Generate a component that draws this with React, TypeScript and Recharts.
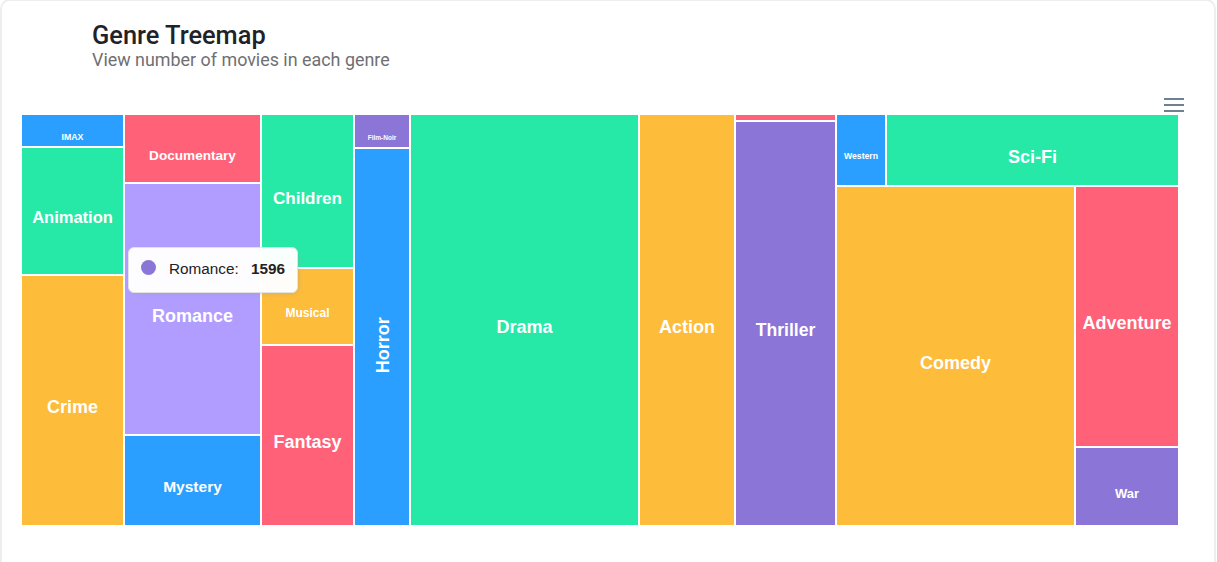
import React from 'react';
import { Treemap } from 'recharts';

const names = ['IMAX','Animation','Crime','Documentary','Romance','Mystery','Children','Musical','Fantasy','Film-Noir','Horror','Drama','Action','(no genres listed)','Thriller','Western','Sci-Fi','Comedy','Adventure','War'];
const counts = [158,611,1199,440,1596,573,664,334,779,87,978,4361,1828,34,1894,167,980,3756,1263,382];
const palette = ['#2a9fff','#27e9a7','#febc3b','#ff6178','#8b75d7'];
const labelSizes = [8.8,16.5,18,13.6,18,15.5,17,12,18,6.5,18,18,18,0,17.6,8.7,18,18,18,13];
const hovered = 'Romance';
const hoveredFill = '#b19dff';
const verticalLabels = ['Horror'];

const leaf = (name: string) => ({ name, value: counts[names.indexOf(name)] });
const group = (...children: any[]) => ({ name: '', children });
const tree = [
  group(leaf('IMAX'), leaf('Animation'), leaf('Crime')),
  group(leaf('Documentary'), leaf('Romance'), leaf('Mystery')),
  group(leaf('Children'), leaf('Musical'), leaf('Fantasy')),
  group(leaf('Film-Noir'), leaf('Horror')),
  leaf('Drama'),
  leaf('Action'),
  group(leaf('(no genres listed)'), leaf('Thriller')),
  group(
    group(leaf('Western'), leaf('Sci-Fi')),
    group(leaf('Comedy'), group(leaf('Adventure'), leaf('War'))),
  ),
];

function Cell(props: any) {
  const { x, y, width, height, name, children } = props;
  if (children && children.length) return <g />;
  const i = names.indexOf(name);
  if (i < 0) return <g />;
  const fill = name === hovered ? hoveredFill : palette[i % palette.length];
  const size = labelSizes[i];
  const cx = x + width / 2;
  const cy = y + height / 2 + 6.2 + size * 0.11;
  const vertical = verticalLabels.includes(name);
  return (
    <g>
      <rect x={x} y={y} width={width} height={height} fill={fill} stroke="#fff" strokeWidth={2} />
      {size > 0 && (
        <text
          x={cx}
          y={vertical ? cy + 2 : cy}
          textAnchor="middle"
          dominantBaseline="middle"
          fill="#fff"
          fontFamily="'Liberation Sans', Arial, sans-serif"
          fontWeight={700}
          fontSize={size}
          transform={vertical ? `rotate(-90 ${cx} ${cy})` : undefined}
        >
          {name}
        </text>
      )}
    </g>
  );
}

export default function App() {
  const hoverIndex = names.indexOf(hovered);
  return (
    <div style={{ position: 'absolute', left: 0, top: 0, width: 1217, height: 562, overflow: 'hidden', background: '#fff' }}>
      <div style={{ position: 'absolute', left: 0, top: -1, width: 1216, height: 600, border: '2px solid #eeeeee', borderRadius: 10, boxSizing: 'border-box' }} />
      <div style={{ position: 'absolute', left: 92, top: 20, fontFamily: 'Roboto, sans-serif', fontWeight: 500, fontSize: 25.4, lineHeight: '30px', color: '#1f2329' }}>Genre Treemap</div>
      <div style={{ position: 'absolute', left: 92, top: 49, fontFamily: 'Roboto, sans-serif', fontWeight: 400, fontSize: 17.9, lineHeight: '22px', color: '#6f6f73' }}>View number of movies in each genre</div>
      <div style={{ position: 'absolute', left: 1164, top: 98, width: 20 }}>
        {[0, 1, 2].map((k) => (
          <div key={k} style={{ position: 'absolute', left: 0, top: k * 6, width: 20, height: 2, background: '#6e8192' }} />
        ))}
      </div>
      <div style={{ position: 'absolute', left: 21, top: 114 }}>
        <Treemap
          width={1158}
          height={412}
          data={tree}
          dataKey="value"
          nameKey="name"
          type="flat"
          aspectRatio={0.001}
          isAnimationActive={false}
          content={<Cell />}
        />
      </div>
      <div style={{ position: 'absolute', left: 128, top: 247, width: 170, height: 46, boxSizing: 'border-box', background: 'rgba(255,255,255,0.97)', border: '1px solid #e3e3e3', borderRadius: 6, boxShadow: '2px 2px 6px -4px #999', fontFamily: "'Liberation Sans', Arial, sans-serif", fontSize: 15.3, color: '#222' }}>
        <div style={{ position: 'absolute', left: 12, top: 12, width: 15, height: 15, borderRadius: '50%', background: palette[4] }} />
        <div style={{ position: 'absolute', left: 40, top: 11.5, lineHeight: '17px' }}>{names[hoverIndex]}:</div>
        <div style={{ position: 'absolute', left: 122, top: 11.5, lineHeight: '17px', fontWeight: 700 }}>{counts[hoverIndex]}</div>
      </div>
    </div>
  );
}
